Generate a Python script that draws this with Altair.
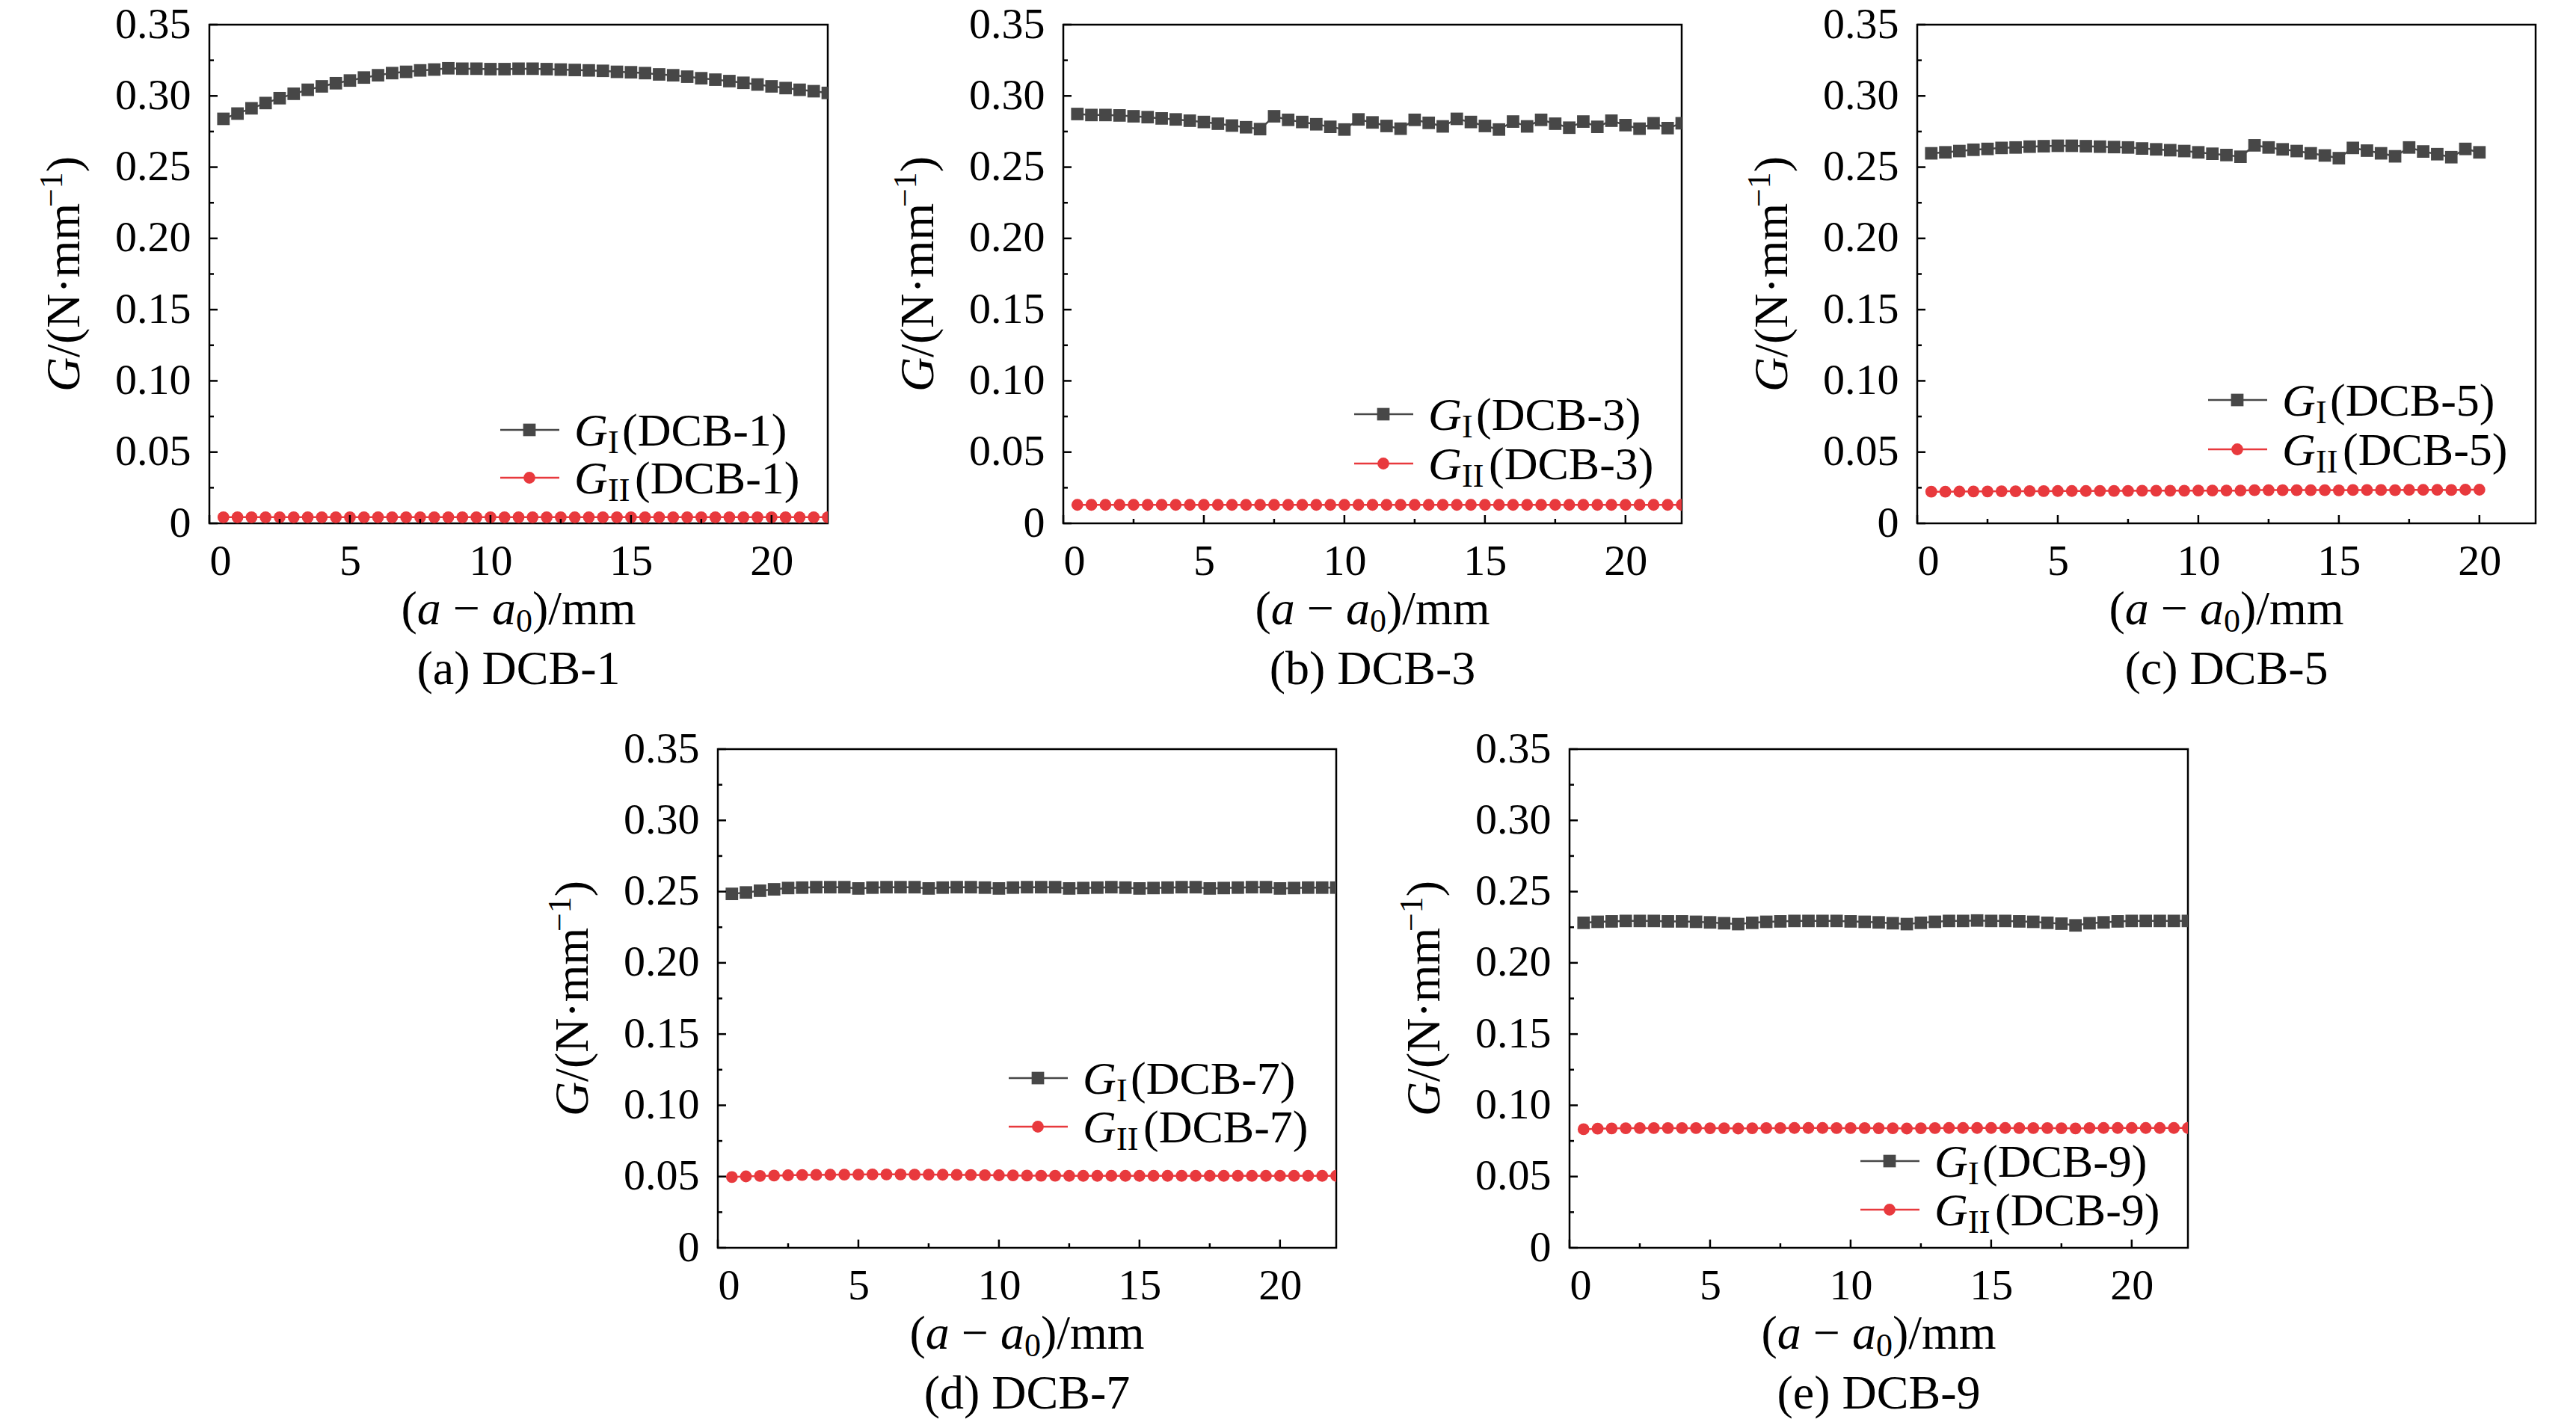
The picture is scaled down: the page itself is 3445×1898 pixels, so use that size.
import altair as alt
import pandas as pd

# Crack length increments (mm)
X_MM = [0.5, 1.0, 1.5, 2.0, 2.5, 3.0, 3.5, 4.0, 4.5, 5.0,
        5.5, 6.0, 6.5, 7.0, 7.5, 8.0, 8.5, 9.0, 9.5, 10.0,
        10.5, 11.0, 11.5, 12.0, 12.5, 13.0, 13.5, 14.0, 14.5, 15.0,
        15.5, 16.0, 16.5, 17.0, 17.5, 18.0, 18.5, 19.0, 19.5, 20.0,
        20.5, 21.0, 21.5, 22.0]

# Energy release rates (N/mm)
GI_DCB1 = [0.2839, 0.2876, 0.2913, 0.2950, 0.2984, 0.3015, 0.3043, 0.3067, 0.3089, 0.3108,
           0.3129, 0.3145, 0.3160, 0.3169, 0.3179, 0.3185, 0.3194, 0.3191, 0.3191, 0.3188,
           0.3188, 0.3191, 0.3191, 0.3188, 0.3185, 0.3182, 0.3179, 0.3176, 0.3169, 0.3166,
           0.3160, 0.3151, 0.3145, 0.3135, 0.3124, 0.3114, 0.3104, 0.3092, 0.3080, 0.3067,
           0.3055, 0.3043, 0.3033, 0.3021]
GII_DCB1 = [0.0043, 0.0043, 0.0043, 0.0043, 0.0043, 0.0043, 0.0043, 0.0043, 0.0043, 0.0043,
            0.0043, 0.0043, 0.0043, 0.0043, 0.0043, 0.0043, 0.0043, 0.0043, 0.0043, 0.0043,
            0.0043, 0.0043, 0.0043, 0.0043, 0.0043, 0.0043, 0.0043, 0.0043, 0.0043, 0.0043,
            0.0043, 0.0043, 0.0043, 0.0043, 0.0043, 0.0043, 0.0043, 0.0043, 0.0043, 0.0043,
            0.0043, 0.0043, 0.0043, 0.0043]

GI_DCB3 = [0.2873, 0.2866, 0.2866, 0.2863, 0.2857, 0.2851, 0.2842, 0.2835, 0.2826, 0.2817,
           0.2805, 0.2792, 0.2780, 0.2767, 0.2857, 0.2832, 0.2817, 0.2801, 0.2783, 0.2764,
           0.2835, 0.2814, 0.2789, 0.2770, 0.2832, 0.2811, 0.2786, 0.2839, 0.2817, 0.2789,
           0.2764, 0.2820, 0.2786, 0.2832, 0.2805, 0.2777, 0.2820, 0.2783, 0.2826, 0.2795,
           0.2770, 0.2808, 0.2774, 0.2808]
GII_DCB3 = [0.0130, 0.0130, 0.0130, 0.0130, 0.0130, 0.0130, 0.0130, 0.0130, 0.0130, 0.0130,
            0.0130, 0.0130, 0.0130, 0.0130, 0.0130, 0.0130, 0.0130, 0.0130, 0.0130, 0.0130,
            0.0130, 0.0130, 0.0130, 0.0130, 0.0130, 0.0130, 0.0130, 0.0130, 0.0130, 0.0130,
            0.0130, 0.0130, 0.0130, 0.0130, 0.0130, 0.0130, 0.0130, 0.0130, 0.0130, 0.0130,
            0.0130, 0.0130, 0.0130, 0.0130]

GI_DCB5 = [0.2597, 0.2604, 0.2613, 0.2622, 0.2628, 0.2635, 0.2638, 0.2644, 0.2647, 0.2650,
           0.2650, 0.2647, 0.2644, 0.2641, 0.2638, 0.2631, 0.2625, 0.2619, 0.2613, 0.2604,
           0.2594, 0.2585, 0.2573, 0.2653, 0.2638, 0.2625, 0.2613, 0.2597, 0.2582, 0.2563,
           0.2635, 0.2616, 0.2597, 0.2576, 0.2638, 0.2610, 0.2591, 0.2570, 0.2628, 0.2604]
GII_DCB5 = [0.0222, 0.0222, 0.0223, 0.0224, 0.0224, 0.0225, 0.0225, 0.0226, 0.0226, 0.0227,
            0.0227, 0.0227, 0.0228, 0.0228, 0.0228, 0.0229, 0.0229, 0.0229, 0.0229, 0.0230,
            0.0230, 0.0230, 0.0230, 0.0233, 0.0233, 0.0233, 0.0233, 0.0233, 0.0233, 0.0232,
            0.0234, 0.0234, 0.0234, 0.0233, 0.0235, 0.0235, 0.0235, 0.0234, 0.0236, 0.0236]

GI_DCB7 = [0.2484, 0.2494, 0.2506, 0.2516, 0.2525, 0.2528, 0.2531, 0.2531, 0.2531, 0.2522,
           0.2528, 0.2531, 0.2531, 0.2531, 0.2522, 0.2528, 0.2531, 0.2531, 0.2528, 0.2522,
           0.2528, 0.2531, 0.2531, 0.2531, 0.2522, 0.2525, 0.2528, 0.2531, 0.2528, 0.2522,
           0.2525, 0.2528, 0.2531, 0.2531, 0.2522, 0.2525, 0.2528, 0.2531, 0.2531, 0.2522,
           0.2525, 0.2528, 0.2528, 0.2528]
GII_DCB7 = [0.0497, 0.0501, 0.0504, 0.0507, 0.0509, 0.0511, 0.0512, 0.0513, 0.0514, 0.0514,
            0.0515, 0.0515, 0.0515, 0.0514, 0.0514, 0.0513, 0.0512, 0.0511, 0.0510, 0.0509,
            0.0508, 0.0507, 0.0506, 0.0506, 0.0505, 0.0505, 0.0505, 0.0505, 0.0505, 0.0505,
            0.0505, 0.0505, 0.0505, 0.0505, 0.0505, 0.0505, 0.0505, 0.0505, 0.0505, 0.0505,
            0.0505, 0.0505, 0.0505, 0.0505]

GI_DCB9 = [0.2281, 0.2288, 0.2291, 0.2294, 0.2294, 0.2294, 0.2291, 0.2291, 0.2288, 0.2284,
           0.2278, 0.2272, 0.2281, 0.2288, 0.2291, 0.2294, 0.2294, 0.2294, 0.2294, 0.2291,
           0.2288, 0.2284, 0.2278, 0.2272, 0.2281, 0.2288, 0.2294, 0.2294, 0.2297, 0.2294,
           0.2294, 0.2291, 0.2288, 0.2281, 0.2275, 0.2263, 0.2278, 0.2284, 0.2291, 0.2294,
           0.2294, 0.2294, 0.2294, 0.2294]
GII_DCB9 = [0.0832, 0.0836, 0.0838, 0.0839, 0.0840, 0.0840, 0.0840, 0.0840, 0.0840, 0.0839,
            0.0839, 0.0837, 0.0839, 0.0840, 0.0840, 0.0841, 0.0841, 0.0841, 0.0840, 0.0840,
            0.0840, 0.0839, 0.0839, 0.0837, 0.0839, 0.0840, 0.0841, 0.0841, 0.0841, 0.0841,
            0.0841, 0.0840, 0.0840, 0.0840, 0.0839, 0.0838, 0.0840, 0.0841, 0.0841, 0.0841,
            0.0841, 0.0841, 0.0841, 0.0841]

SPECIMENS = ["DCB-1", "DCB-3", "DCB-5", "DCB-7", "DCB-9"]
CAPTIONS = ["(a) DCB-1", "(b) DCB-3", "(c) DCB-5", "(d) DCB-7", "(e) DCB-9"]
GI_SERIES = [GI_DCB1, GI_DCB3, GI_DCB5, GI_DCB7, GI_DCB9]
GII_SERIES = [GII_DCB1, GII_DCB3, GII_DCB5, GII_DCB7, GII_DCB9]

X_MAJOR = [0, 5, 10, 15, 20]
X_MINOR = [2.5, 7.5, 12.5, 17.5]
Y_MAJOR = [0, 0.05, 0.1, 0.15, 0.2, 0.25, 0.3, 0.35]
Y_MINOR = [0.025, 0.075, 0.125, 0.175, 0.225, 0.275, 0.325]

# ---- styling ----
W, H = 827, 667
FONT = "Liberation Serif"
FS = 64          # axis titles and captions
FS_SUB = 44      # sub/superscripts
GREY = "#474747"
RED = "#e8393d"
SQ_SIZE, DOT_SIZE = 280, 250
LEGEND_ROWS = [(542, 606), (521, 587), (502, 568), (440, 505), (551, 616)]

x_scale = alt.Scale(domain=[0, 22], nice=False, zero=False)
y_scale = alt.Scale(domain=[0, 0.35], nice=False, zero=False)

x_axis = alt.Axis(values=X_MAJOR, format="d", title=None, ticks=False,
                  domain=False, grid=False, labelPadding=22, labelFontSize=58)
y_axis = alt.Axis(values=Y_MAJOR, title=None, ticks=False, domain=False,
                  grid=False, labelPadding=25, labelFontSize=58,
                  labelExpr="datum.value == 0 ? '0' : format(datum.value, '.2f')")

one_row = pd.DataFrame({"k": [0]})


def txt(text, x, y, size=FS, italic=False, align="left", angle=0):
    """A single styled run of text placed in panel pixel coordinates."""
    kw = dict(text=text, font=FONT, fontSize=size, align=align,
              baseline="alphabetic", color="black")
    if italic:
        kw["fontStyle"] = "italic"
    if angle:
        kw["angle"] = angle
    return alt.Chart(one_row).mark_text(**kw).encode(x=alt.value(x), y=alt.value(y))


def tick_layer(values, along, length):
    # inward-pointing tick marks drawn on the shared scales
    src = alt.Chart(pd.DataFrame({"v": values}))
    if along == "x":
        return src.mark_rule(color="black", strokeWidth=2.5).encode(
            x=alt.X("v:Q", scale=x_scale, axis=x_axis),
            y=alt.value(H), y2=alt.value(H - length))
    return src.mark_rule(color="black", strokeWidth=2.5).encode(
        y=alt.Y("v:Q", scale=y_scale, axis=y_axis),
        x=alt.value(0), x2=alt.value(length))


def x_title():
    # (a − a0)/mm with italic a and subscript 0, centred under the plot
    y = H + 135
    x0 = W / 2 - 157
    return [
        txt("(", x0, y),
        txt("a", x0 + 21.3, y, italic=True),
        txt("−", x0 + 69.3, y),
        txt("a", x0 + 121.4, y, italic=True),
        txt("0", x0 + 153.4, y + 10, size=FS_SUB),
        txt(")/mm", x0 + 175.4, y),
    ]


def y_title():
    # G/(N·mm^-1), rotated, reading bottom to top
    bx = -174
    y0 = H / 2 + 157.6
    return [
        txt("G", bx, y0, italic=True, angle=270),
        txt("/(N·mm", bx, y0 - 46.2, angle=270),
        txt("−1", bx - 23, y0 - 247.1, size=FS_SUB, angle=270),
        txt(")", bx, y0 - 293.9, angle=270),
    ]


def legend_entry(ly, color, shape, size, sub, name):
    x0 = 488
    rest_x = x0 + (64 if sub == "I" else 81)
    base = alt.Chart(one_row)
    return [
        base.mark_rule(color=color, strokeWidth=2.5).encode(
            x=alt.value(389), x2=alt.value(468), y=alt.value(ly)),
        base.mark_point(shape=shape, filled=True, size=size, color=color, opacity=1).encode(
            x=alt.value(428), y=alt.value(ly)),
        txt("G", x0, ly + 21, size=62, italic=True),
        txt(sub, x0 + 45, ly + 31, size=FS_SUB),
        txt(f"({name})", rest_x, ly + 21, size=62),
    ]


def panel(i):
    n = len(GI_SERIES[i])
    xs = X_MM[:n]
    gi = pd.DataFrame({"x": xs, "G": GI_SERIES[i]})
    gii = pd.DataFrame({"x": xs, "G": GII_SERIES[i]})

    enc = dict(x=alt.X("x:Q", scale=x_scale, axis=x_axis),
               y=alt.Y("G:Q", scale=y_scale, axis=y_axis))

    layers = [
        alt.Chart(gi).mark_line(color=GREY, strokeWidth=2.5, clip=True).encode(**enc),
        alt.Chart(gi).mark_point(shape="square", filled=True, size=SQ_SIZE, color=GREY,
                                 opacity=1, clip=True).encode(**enc),
        alt.Chart(gii).mark_line(color=RED, strokeWidth=2.5, clip=True).encode(**enc),
        alt.Chart(gii).mark_point(shape="circle", filled=True, size=DOT_SIZE, color=RED,
                                  opacity=1, clip=True).encode(**enc),
        tick_layer(X_MAJOR, "x", 11),
        tick_layer(X_MINOR, "x", 6),
        tick_layer(Y_MAJOR, "y", 11),
        tick_layer(Y_MINOR, "y", 6),
    ]
    layers += x_title()
    layers += y_title()
    layers.append(txt(CAPTIONS[i], W / 2, H + 215, align="center"))
    ly1, ly2 = LEGEND_ROWS[i]
    layers += legend_entry(ly1, GREY, "square", SQ_SIZE, "I", SPECIMENS[i])
    layers += legend_entry(ly2, RED, "circle", DOT_SIZE, "II", SPECIMENS[i])

    return alt.layer(*layers).properties(width=W, height=H)


spacer = alt.Chart(one_row).mark_point(opacity=0).encode(
    x=alt.X("k:Q", axis=None), y=alt.Y("k:Q", axis=None)
).properties(width=368, height=H, view=alt.ViewBackground(stroke=None))

top_row = alt.hconcat(panel(0), panel(1), panel(2), spacing=315, bounds="flush")
bottom_row = alt.hconcat(spacer, panel(3), panel(4), spacing=312, bounds="flush")

chart = alt.vconcat(top_row, bottom_row, spacing=41).properties(
    padding={"left": 46, "top": 2, "right": 5, "bottom": 5},
    background="white",
).configure_view(
    stroke="black", strokeWidth=2.5
).configure_axis(
    labelFont=FONT, labelColor="black"
)

chart.save("out.html", embed_options={"renderer": "svg", "actions": False})
